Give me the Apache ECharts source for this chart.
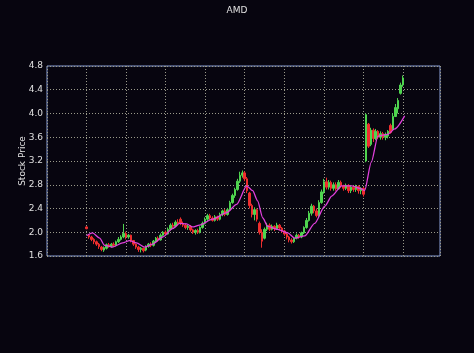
<!DOCTYPE html>
<html>
<head>
<meta charset="utf-8">
<script src="https://cdn.jsdelivr.net/npm/echarts@6/dist/echarts.min.js"></script>
<style>
  html, body { margin: 0; padding: 0; background: #07050f; }
  #echarts { width: 474px; height: 353px; }
</style>
</head>
<body>
<div id="echarts"></div>
<script>
// daily candles, [open, close, low, high]
var candles = [
    [2.09, 2.06, 2.05, 2.10], [1.95, 1.92, 1.89, 1.97], [1.92, 1.88, 1.85, 1.94], [1.88, 1.84, 1.80, 1.90],
    [1.84, 1.80, 1.77, 1.86], [1.80, 1.76, 1.72, 1.82], [1.75, 1.71, 1.68, 1.77], [1.70, 1.74, 1.67, 1.76],
    [1.73, 1.79, 1.71, 1.81], [1.79, 1.76, 1.74, 1.82], [1.76, 1.80, 1.74, 1.82], [1.80, 1.78, 1.75, 1.83],
    [1.78, 1.84, 1.76, 1.86], [1.84, 1.88, 1.82, 1.92], [1.88, 1.92, 1.86, 1.95], [1.92, 1.98, 1.90, 2.14],
    [1.98, 1.92, 1.88, 2.01], [1.92, 1.95, 1.89, 1.97], [1.95, 1.86, 1.83, 1.96], [1.86, 1.80, 1.77, 1.87],
    [1.80, 1.75, 1.72, 1.81], [1.75, 1.71, 1.67, 1.77], [1.71, 1.73, 1.66, 1.75], [1.73, 1.69, 1.66, 1.74],
    [1.70, 1.76, 1.68, 1.78], [1.76, 1.80, 1.74, 1.82], [1.80, 1.78, 1.75, 1.83], [1.78, 1.85, 1.76, 1.87],
    [1.85, 1.90, 1.83, 1.92], [1.90, 1.87, 1.84, 1.93], [1.87, 1.95, 1.86, 1.98], [1.95, 2.00, 1.93, 2.02],
    [2.00, 1.97, 1.95, 2.03], [1.97, 2.05, 1.96, 2.08], [2.05, 2.12, 2.03, 2.15], [2.12, 2.10, 2.07, 2.16],
    [2.10, 2.17, 2.08, 2.20], [2.17, 2.14, 2.11, 2.22], [2.22, 2.15, 2.12, 2.25], [2.15, 2.12, 2.09, 2.18],
    [2.12, 2.08, 2.05, 2.15], [2.08, 2.10, 2.04, 2.13], [2.10, 2.04, 2.01, 2.12], [2.04, 2.00, 1.97, 2.06],
    [2.00, 2.03, 1.96, 2.05], [2.03, 2.00, 1.97, 2.06], [2.00, 2.08, 1.98, 2.10], [2.08, 2.15, 2.06, 2.18],
    [2.15, 2.22, 2.13, 2.25], [2.22, 2.28, 2.19, 2.31], [2.28, 2.24, 2.21, 2.31], [2.24, 2.20, 2.18, 2.27],
    [2.20, 2.26, 2.18, 2.29], [2.26, 2.22, 2.19, 2.28], [2.22, 2.30, 2.20, 2.33], [2.30, 2.36, 2.27, 2.38],
    [2.36, 2.30, 2.27, 2.39], [2.30, 2.38, 2.28, 2.41], [2.38, 2.50, 2.36, 2.53], [2.50, 2.62, 2.48, 2.65],
    [2.62, 2.72, 2.58, 2.75], [2.72, 2.86, 2.70, 2.90], [2.86, 2.96, 2.83, 3.02], [2.96, 3.00, 2.92, 3.04],
    [3.00, 2.90, 2.86, 3.03], [2.90, 2.70, 2.66, 2.93], [2.66, 2.45, 2.40, 2.68], [2.45, 2.30, 2.25, 2.48],
    [2.30, 2.38, 2.20, 2.42], [2.38, 2.22, 2.18, 2.40], [2.15, 2.00, 1.96, 2.18], [2.00, 1.85, 1.74, 2.05],
    [1.90, 2.05, 1.88, 2.08], [2.05, 2.12, 2.02, 2.16], [2.12, 2.05, 2.02, 2.15], [2.05, 2.10, 2.03, 2.13],
    [2.10, 2.06, 2.02, 2.12], [2.06, 2.12, 2.04, 2.16], [2.12, 2.07, 2.03, 2.14], [2.07, 2.02, 1.99, 2.09],
    [2.02, 1.97, 1.94, 2.04], [1.97, 1.92, 1.88, 2.00], [1.92, 1.87, 1.83, 1.94], [1.87, 1.84, 1.81, 1.90],
    [1.84, 1.90, 1.82, 1.92], [1.90, 1.95, 1.88, 1.98], [1.95, 1.92, 1.89, 1.97], [1.92, 1.99, 1.90, 2.01],
    [1.99, 2.08, 1.97, 2.10], [2.08, 2.20, 2.06, 2.24], [2.20, 2.32, 2.18, 2.36], [2.32, 2.44, 2.28, 2.48],
    [2.44, 2.36, 2.32, 2.46], [2.36, 2.28, 2.25, 2.40], [2.28, 2.50, 2.26, 2.54], [2.50, 2.68, 2.48, 2.72],
    [2.68, 2.85, 2.65, 2.90], [2.85, 2.76, 2.72, 2.92], [2.76, 2.84, 2.72, 2.88], [2.84, 2.74, 2.70, 2.87],
    [2.74, 2.80, 2.70, 2.84], [2.80, 2.73, 2.70, 2.84], [2.73, 2.84, 2.72, 2.88], [2.84, 2.78, 2.75, 2.87],
    [2.78, 2.74, 2.70, 2.80], [2.74, 2.79, 2.71, 2.82], [2.79, 2.70, 2.66, 2.81], [2.70, 2.76, 2.66, 2.79],
    [2.76, 2.72, 2.68, 2.78], [2.72, 2.77, 2.68, 2.80], [2.77, 2.70, 2.65, 2.79], [2.70, 2.74, 2.64, 2.76],
    [2.74, 2.64, 2.60, 2.76], [3.20, 3.98, 3.18, 4.00], [3.82, 3.45, 3.42, 3.84], [3.48, 3.72, 3.45, 3.76],
    [3.72, 3.58, 3.52, 3.75], [3.58, 3.70, 3.55, 3.74], [3.70, 3.60, 3.57, 3.72], [3.60, 3.66, 3.56, 3.70],
    [3.66, 3.60, 3.56, 3.69], [3.60, 3.65, 3.55, 3.68], [3.62, 3.70, 3.58, 3.72], [3.80, 3.68, 3.66, 3.83],
    [3.74, 3.95, 3.72, 4.00], [3.95, 4.10, 3.94, 4.16], [4.08, 4.22, 4.00, 4.26], [4.34, 4.48, 4.32, 4.52],
    [4.48, 4.60, 4.45, 4.64]
]

// moving average at some of the days
var maDays = [0, 2.4, 5.3, 7.3, 10.5, 14.6, 17.4, 20.2, 23.5, 26.7, 30.8, 34.8, 37.7, 40.5, 42.9, 45.7,
    51, 56.7, 60.7, 64.8, 67.2, 69.2, 71.3, 73.3, 77.3, 81.4, 84.2, 88.3, 92.3, 96.4, 99.2, 103.2,
    107.3, 111.3, 112.5, 115.2, 117.9, 121.9, 124.7, 128.7]
var maValues = [1.94, 1.99, 1.90, 1.78, 1.75, 1.82, 1.86, 1.82, 1.75, 1.80, 1.92, 2.06, 2.15, 2.14, 2.09, 2.12,
    2.22, 2.33, 2.47, 2.78, 2.70, 2.53, 2.24, 2.10, 2.05, 1.99, 1.90, 1.94, 2.15, 2.44, 2.61, 2.78,
    2.78, 2.73, 2.70, 3.18, 3.62, 3.65, 3.74, 3.96]

var yTicks = [1.6, 2.0, 2.4, 2.8, 3.2, 3.6, 4.0, 4.4, 4.8]

var chart = echarts.init(document.getElementById('echarts'))

var candleData = candles.map(function (c, i) {
    return [i, c[0], c[1], c[2], c[3]]
})
var maData = maDays.map(function (d, i) {
    return [d, maValues[i]]
})

var option = {
    backgroundColor: '#07050f',
    animation: false,
    textStyle: { fontFamily: 'DejaVu Sans' },
    title: {
        text: 'AMD',
        left: 'center',
        top: 1,
        textStyle: { color: '#e0e0e0', fontSize: 9, fontWeight: 'normal' }
    },
    grid: {
        left: 47,
        right: 34,
        top: 66,
        bottom: 97,
        show: true,
        borderColor: '#8aa0d8',
        borderWidth: 1
    },
    xAxis: {
        type: 'value',
        min: -16,
        max: 143,
        interval: 16,
        axisLine: { show: false },
        axisTick: { show: false },
        axisLabel: { show: false },
        splitLine: {
            show: true,
            lineStyle: { color: '#9a9a8a', type: [1, 2], width: 1 }
        }
    },
    yAxis: {
        type: 'value',
        min: yTicks[0],
        max: yTicks[yTicks.length - 1],
        interval: 0.4,
        name: 'Stock Price',
        nameLocation: 'middle',
        nameGap: 20,
        nameMoveOverlap: false,
        nameTextStyle: { color: '#e0e0e0', fontSize: 9 },
        axisLine: { show: false },
        axisTick: { show: false },
        axisLabel: {
            color: '#e0e0e0',
            fontSize: 9,
            margin: 4,
            formatter: function (v) { return v.toFixed(1) }
        },
        splitLine: {
            show: true,
            lineStyle: { color: '#9a9a8a', type: [1, 2], width: 1 }
        }
    },
    series: [
        {
            name: 'AMD',
            type: 'candlestick',
            barWidth: 2,
            dimensions: ['day', 'open', 'close', 'lowest', 'highest'],
            encode: { x: 0, y: [1, 2, 3, 4] },
            itemStyle: {
                color: '#4fd44f',
                color0: '#ee2e2e',
                borderColor: '#4fd44f',
                borderColor0: '#ee2e2e',
                borderWidth: 1
            },
            data: candleData
        },
        {
            name: 'MA',
            type: 'line',
            data: maData,
            smooth: 0.25,
            smoothMonotone: 'x',
            showSymbol: false,
            lineStyle: { color: '#e040dc', width: 1.3 },
            z: 5
        }
    ]
}

chart.setOption(option)
</script>
</body>
</html>
